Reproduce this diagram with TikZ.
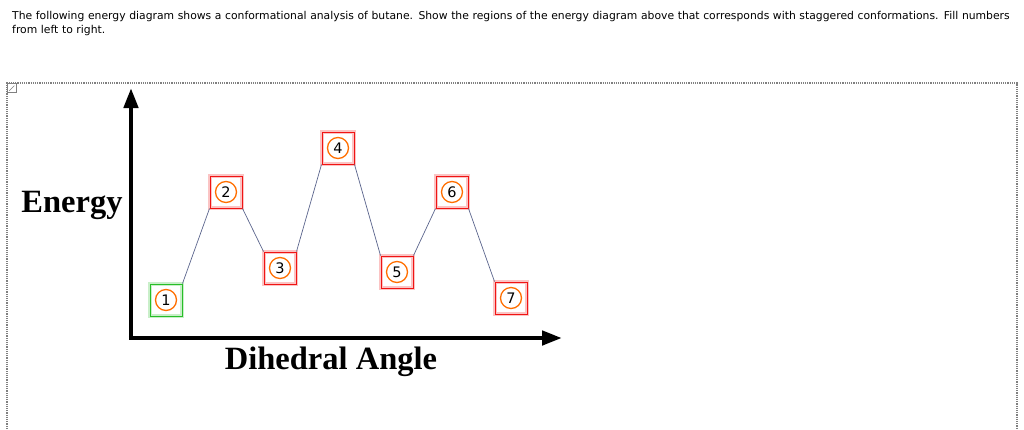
\documentclass[tikz,border=0pt]{standalone}
\usepackage{fontspec}
\setmainfont{Liberation Serif}
\newfontfamily\verd{DejaVu Sans}
\usetikzlibrary{arrows.meta}
\definecolor{boxred}{RGB}{240,20,20}
\definecolor{boxgreen}{RGB}{40,190,40}
\definecolor{circ}{RGB}{255,110,0}
\definecolor{curve}{RGB}{90,100,140}
\tikzset{
 pt/.style={draw=#1,line width=1pt,minimum size=32pt,inner sep=0pt,
   preaction={draw=#1!25,line width=3.5pt}},
 num/.style={draw=circ,circle,line width=1.3pt,minimum size=21pt,inner sep=0pt,font=\verd\fontsize{14.5}{14.5}\selectfont},
 seg/.style={draw=curve,line width=0.7pt},
 axis/.style={line width=4.5pt,-{Triangle[length=20pt,width=14pt]}}
}
\begin{document}
\begin{tikzpicture}[x=1pt,y=-1pt]
\useasboundingbox (0,0) rectangle (1024,429);
\node[anchor=north west,text width=1008pt,align=left,inner sep=0pt,font=\verd\fontsize{10.8}{14}\selectfont] (q) at (12,11)
 {The following energy diagram shows a conformational analysis of butane. Show the regions of the energy diagram above that corresponds with staggered conformations. Fill numbers from left to right.};
\draw[gray,densely dotted,line width=1.2pt] (7,440) -- (7,83) -- (1017,83) -- (1017,440);
\node[draw=gray,fill=white,minimum size=9pt,inner sep=0pt] (ic) at (12,88) {};
\draw[gray,line width=0.6pt] (ic.south west)++(2,-2) -- ++(5,-5);
\coordinate (o) at (131,338);
\coordinate (yt) at (131,88);
\coordinate (xr) at (562,338);
\draw[axis] (o) -- (yt);
\draw[axis] ([xshift=-2.25pt]o) -- (xr);
\node[font=\bfseries\fontsize{32.5}{32.5}\selectfont] (en) at (72,205) {Energy};
\node[font=\bfseries\fontsize{32.5}{32.5}\selectfont] (da) at (331,362) {Dihedral Angle};
\foreach \n/\x/\y/\c in {1/166/300/boxgreen,2/226/192/boxred,3/280/268/boxred,4/338/148/boxred,5/397/272/boxred,6/452/192/boxred,7/511/298/boxred}{
  \node[pt=\c] (b\n) at (\x,\y) {};
  \node[num] (c\n) at (\x,\y) {\n};
}
\draw[seg] (b1.north east) -- (b2.south west);
\draw[seg] (b2.south east) -- (b3.north west);
\draw[seg] (b3.north east) -- (b4.south west);
\draw[seg] (b4.south east) -- (b5.north west);
\draw[seg] (b5.north east) -- (b6.south west);
\draw[seg] (b6.south east) -- (b7.north west);
\end{tikzpicture}
\end{document}
